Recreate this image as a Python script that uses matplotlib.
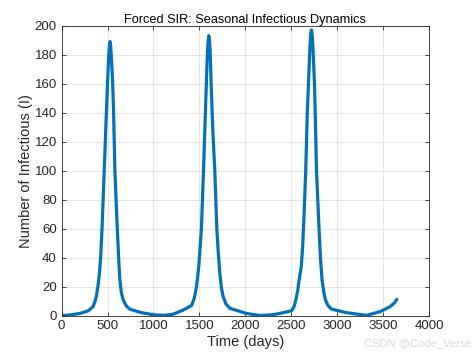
import matplotlib
matplotlib.use("Agg")
import matplotlib.pyplot as plt

# values
days = [0, 100, 200, 290, 340, 365, 380, 395, 410, 425, 440, 464, 489, 500, 512, 520, 527,
        534, 542, 555, 566, 580, 596, 612, 624, 634, 650, 670, 700, 740, 870, 1010, 1120,
        1215, 1324, 1415, 1445, 1469, 1495, 1522, 1545, 1567, 1576, 1588, 1596, 1603,
        1610, 1618, 1628, 1639, 1652, 1668, 1690, 1704, 1723, 1740, 1759, 1790, 1832,
        2013, 2158, 2300, 2375, 2503, 2530, 2550, 2570, 2586, 2610, 2625, 2640, 2658, 2675,
        2688, 2702, 2712, 2720, 2728, 2738, 2753, 2763, 2775, 2803, 2818, 2836, 2855,
        2873, 2900, 2938, 3101, 3319, 3464, 3572, 3619, 3650]
infectious = [0.0, 0.5, 1.5, 3.3, 6.0, 10.0, 14.0, 20.0, 28.0, 40.0, 60.0, 100.0, 143.0, 160.0, 178.0, 186.0, 189.0,
              186.0, 178.0, 162.0, 140.0, 100.0, 75.0, 52.0, 36.0, 25.0, 16.0, 11.0, 7.0, 4.5, 2.0, 0.5, 0.2,
              1.0, 3.8, 7.0, 12.0, 20.0, 35.0, 60.0, 100.0, 143.0, 160.0, 182.0, 190.0, 193.0,
              190.0, 182.0, 160.0, 140.0, 120.0, 100.0, 60.0, 45.0, 29.0, 19.0, 13.0, 8.0, 5.0,
              1.5, 0.1, 0.6, 1.5, 3.3, 6.0, 10.7, 17.0, 24.5, 34.0, 48.0, 70.0, 100.0, 140.0,
              160.0, 183.0, 194.0, 197.0, 194.0, 183.0, 160.0, 135.0, 100.0, 60.0, 40.0, 24.5, 16.0,
              10.7, 7.0, 4.5, 2.0, 0.2, 2.6, 6.0, 8.4, 11.2]

xticks = [0, 500, 1000, 1500, 2000, 2500, 3000, 3500, 4000]
yticks = [0, 20, 40, 60, 80, 100, 120, 140, 160, 180, 200]

plt.rcParams['font.family'] = ['Liberation Sans', 'DejaVu Sans']
axcol = (0.15, 0.15, 0.15)

fig = plt.figure(figsize=(4.74, 3.55), dpi=100)
ax = fig.add_axes([0.130, 0.111, 0.775, 0.817])

ax.plot(days, infectious, color='#0072BD', linewidth=2.3,
        solid_joinstyle='round', solid_capstyle='round')

ax.set_xlim(0, 4000)
ax.set_ylim(0, 200)
ax.set_xticks(xticks)
ax.set_yticks(yticks)
ax.grid(True, color=(0.15, 0.15, 0.15), alpha=0.13, linewidth=0.6)
ax.set_axisbelow(True)
ax.tick_params(direction='in', top=True, right=True, length=3, width=0.6,
               colors=axcol, labelsize=9.5, pad=3.5)
for s in ax.spines.values():
    s.set_color(axcol)
    s.set_linewidth(0.6)

ax.set_title("Forced SIR: Seasonal Infectious Dynamics", fontsize=9.2, color='black', pad=2)
ax.set_xlabel("Time (days)", fontsize=10.5, color=axcol, labelpad=2)
ax.set_ylabel("Number of Infectious (I)", fontsize=10.5, color=axcol, labelpad=1)

fig.text(0.995, 0.018, "CSDN @Code_Verse", ha='right', va='bottom',
         fontsize=8, color=(0.85, 0.85, 0.85))

fig.savefig("out.png", dpi=100)
